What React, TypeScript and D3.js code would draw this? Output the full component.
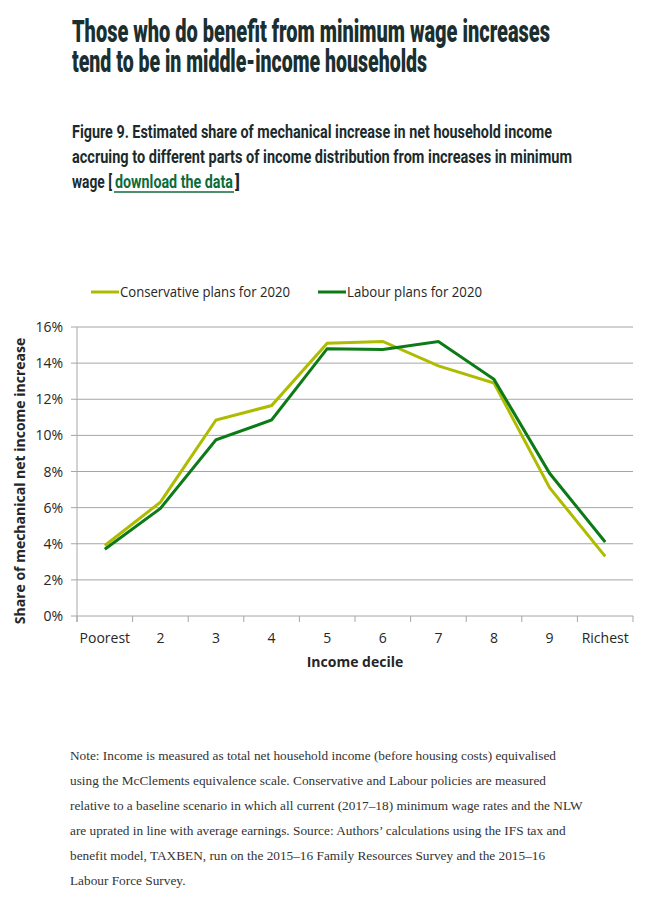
import React, { useEffect, useRef } from 'react';
import * as d3 from 'd3';

const deciles = ['Poorest', '2', '3', '4', '5', '6', '7', '8', '9', 'Richest'];
const conservative = [3.9, 6.3, 10.85, 11.65, 15.1, 15.2, 13.85, 12.9, 7.1, 3.3];
const labour = [3.7, 5.95, 9.75, 10.85, 14.8, 14.75, 15.2, 13.1, 7.9, 4.1];
const yTicks = [0, 2, 4, 6, 8, 10, 12, 14, 16];

const seriesNames = ['Conservative plans for 2020', 'Labour plans for 2020'];
const seriesColors = ['#aebc00', '#0b7a17'];

const noteLines = [
  'Note: Income is measured as total net household income (before housing costs) equivalised',
  'using the McClements equivalence scale. Conservative and Labour policies are measured',
  'relative to a baseline scenario in which all current (2017\u201318) minimum wage rates and the NLW',
  'are uprated in line with average earnings. Source: Authors\u2019 calculations using the IFS tax and',
  'benefit model, TAXBEN, run on the 2015\u201316 Family Resources Survey and the 2015\u201316',
  'Labour Force Survey.',
];

const width = 657;
const height = 901;

const App: React.FC = () => {
  const svgRef = useRef<SVGSVGElement>(null);

  useEffect(() => {
    if (!svgRef.current) return;
    const svg = d3.select(svgRef.current);
    svg.selectAll('*').remove();

    svg.append('rect').attr('width', width).attr('height', height).attr('fill', '#fff');

    // Headline
    const headFont = 'Roboto, "Noto Sans", sans-serif';
    const headline = [
      { t: 'Those who do benefit from minimum wage increases', y: 42, w: 478 },
      { t: 'tend to be in middle-income households', y: 72, w: 355 },
    ];
    headline.forEach(h => {
      svg.append('text')
        .attr('x', 72).attr('y', h.y)
        .attr('textLength', h.w).attr('lengthAdjust', 'spacingAndGlyphs')
        .style('font-family', headFont).style('font-size', '31px').style('font-weight', 900)
        .style('fill', '#1b2f30')
        .text(h.t);
    });

    // Figure caption
    const caption = [
      { t: 'Figure 9. Estimated share of mechanical increase in net household income', y: 138, w: 480 },
      { t: 'accruing to different parts of income distribution from increases in minimum', y: 163, w: 500 },
    ];
    caption.forEach(c => {
      svg.append('text')
        .attr('x', 72).attr('y', c.y)
        .attr('textLength', c.w).attr('lengthAdjust', 'spacingAndGlyphs')
        .style('font-family', headFont).style('font-size', '19px').style('font-weight', 700)
        .style('fill', '#1b2b2c')
        .text(c.t);
    });
    const capParts = [
      { t: 'wage [', x: 72, w: 40, c: '#1b2b2c' },
      { t: 'download the data', x: 115, w: 118, c: '#0d6b3a' },
      { t: ']', x: 235, w: 5, c: '#1b2b2c' },
    ];
    capParts.forEach(p => {
      svg.append('text')
        .attr('x', p.x).attr('y', 188)
        .attr('textLength', p.w).attr('lengthAdjust', 'spacingAndGlyphs')
        .style('font-family', headFont).style('font-size', '19px').style('font-weight', 700)
        .style('fill', p.c)
        .text(p.t);
    });
    svg.append('line')
      .attr('x1', 114).attr('x2', 234).attr('y1', 192).attr('y2', 192)
      .attr('stroke', '#0d6b3a').attr('stroke-width', 1.5);

    // Chart
    const margin = { top: 327, left: 77, right: 24, bottom: 285 };
    const innerW = width - margin.left - margin.right;
    const innerH = height - margin.top - margin.bottom;
    const g = svg.append('g').attr('transform', `translate(${margin.left},${margin.top})`);

    const x = d3.scaleBand().domain(deciles).range([0, innerW]);
    const y = d3.scaleLinear().domain([0, 16]).range([innerH, 0]);

    const chartFont = '"Open Sans", "Noto Sans", sans-serif';

    g.selectAll('.grid')
      .data(yTicks)
      .enter().append('line')
      .attr('x1', -6).attr('x2', innerW)
      .attr('y1', d => y(d)).attr('y2', d => y(d))
      .attr('stroke', '#a6a6a6').attr('stroke-width', 1);

    g.selectAll('.ylab')
      .data(yTicks)
      .enter().append('text')
      .attr('x', -14).attr('y', d => y(d) + 5)
      .attr('text-anchor', 'end')
      .style('font-family', chartFont).style('font-size', '14px').style('fill', '#262626')
      .text(d => `${d}%`);

    // Y axis line and category ticks
    g.append('line')
      .attr('x1', 0).attr('x2', 0).attr('y1', 0).attr('y2', innerH + 6)
      .attr('stroke', '#a6a6a6');
    const edges = deciles.map(d => x(d) as number).concat([innerW]);
    g.selectAll('.xtick')
      .data(edges)
      .enter().append('line')
      .attr('x1', d => d).attr('x2', d => d)
      .attr('y1', innerH).attr('y2', innerH + 6)
      .attr('stroke', '#a6a6a6');

    g.selectAll('.xlab')
      .data(deciles)
      .enter().append('text')
      .attr('x', d => (x(d) as number) + x.bandwidth() / 2)
      .attr('y', innerH + 27)
      .attr('text-anchor', 'middle')
      .style('font-family', chartFont).style('font-size', '14px').style('fill', '#262626')
      .text(d => d);

    const line = d3.line<number>()
      .x((_, i) => (x(deciles[i]) as number) + x.bandwidth() / 2)
      .y(d => y(d));

    [conservative, labour].forEach((vals, i) => {
      g.append('path')
        .datum(vals)
        .attr('d', line)
        .attr('fill', 'none')
        .attr('stroke', seriesColors[i])
        .attr('stroke-width', 3)
        .attr('stroke-linejoin', 'miter');
    });

    // Axis titles
    g.append('text')
      .attr('x', innerW / 2).attr('y', innerH + 51)
      .attr('text-anchor', 'middle')
      .style('font-family', chartFont).style('font-size', '14px').style('font-weight', 700)
      .style('fill', '#262626')
      .text('Income decile');

    svg.append('text')
      .attr('transform', 'translate(25,481) rotate(-90)')
      .attr('text-anchor', 'middle')
      .style('font-family', chartFont).style('font-size', '14px').style('font-weight', 700)
      .style('fill', '#262626')
      .text('Share of mechanical net income increase');

    // Legend
    const legendPos = [91, 318];
    const legendW = [170, 135];
    seriesNames.forEach((name, i) => {
      const lg = svg.append('g').attr('transform', `translate(${legendPos[i]},292)`);
      lg.append('line')
        .attr('x1', 0).attr('x2', 28).attr('y1', 0).attr('y2', 0)
        .attr('stroke', seriesColors[i]).attr('stroke-width', 3);
      lg.append('text')
        .attr('x', 29).attr('y', 5)
        .attr('textLength', legendW[i]).attr('lengthAdjust', 'spacingAndGlyphs')
        .style('font-family', chartFont).style('font-size', '14.5px').style('fill', '#262626')
        .text(name);
    });

    // Note
    svg.selectAll('.note')
      .data(noteLines)
      .enter().append('text')
      .attr('x', 70).attr('y', (_, i) => 760 + i * 25)
      .style('font-family', '"Liberation Serif", "DejaVu Serif", serif')
      .style('font-size', '13.3px').style('fill', '#333')
      .text(d => d);
  }, []);

  return (
    <div style={{ position: 'absolute', left: 0, top: 0 }}>
      <svg ref={svgRef} width={width} height={height} style={{ display: 'block' }}></svg>
    </div>
  );
};

export default App;
